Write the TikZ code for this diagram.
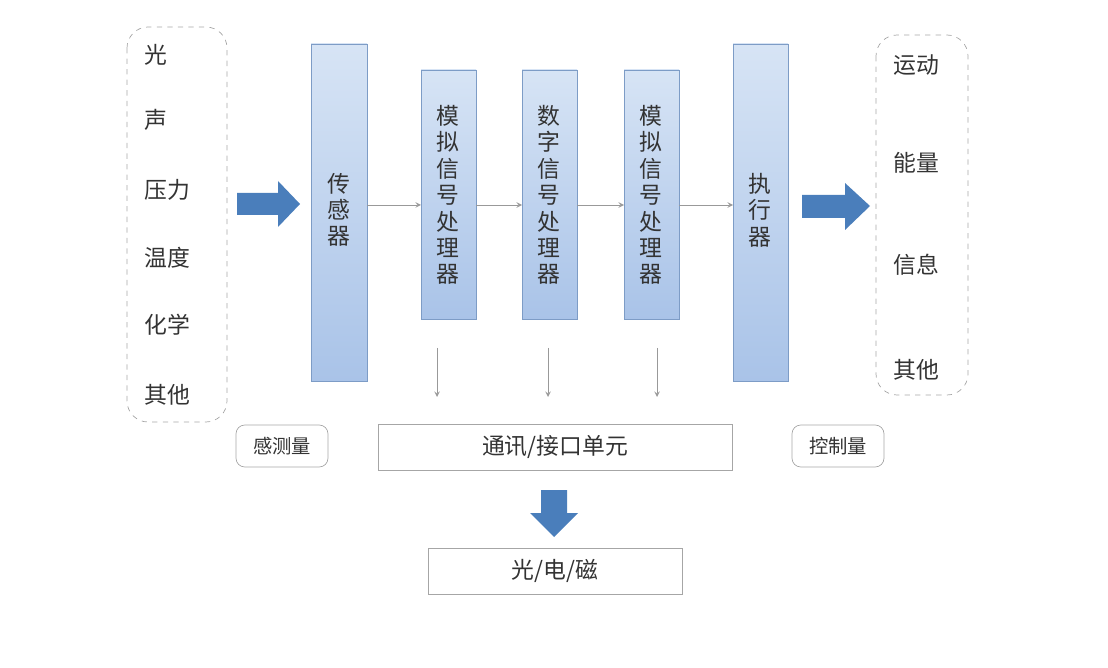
\documentclass[tikz,border=0pt]{standalone}
\usepackage{fontspec}
\setmainfont{Noto Sans CJK SC}
\definecolor{bfill}{HTML}{BCD2EE}
\definecolor{bfill2}{HTML}{A9C3E8}
\definecolor{bdraw}{HTML}{7D9CC6}
\definecolor{barrow}{HTML}{4A7EBB}
\definecolor{txt}{HTML}{333333}
\begin{document}
\begin{tikzpicture}[x=0.02cm,y=-0.02cm,
  proc/.style={draw=bdraw,top color=bfill!60,bottom color=bfill2},
  ptxt/.style={text=txt,font=\fontsize{13}{15}\selectfont,align=center},
  side/.style={draw=gray!70,dashed,rounded corners=12},
  lab/.style={text=txt,font=\fontsize{13}{14}\selectfont,anchor=west},
  rbox/.style={draw=gray!70,rounded corners=5,text=txt,font=\fontsize{11}{13}\selectfont},
  sbox/.style={draw=gray!70,text=txt,font=\fontsize{13}{15}\selectfont},
  tarrow/.style={->,draw=gray!80,>=stealth,line width=0.4pt}]
\useasboundingbox (0,0) rectangle (1108,668);
% left dashed
\draw[side] (127,27) rectangle (227,422);
\foreach \t/\y in {光/55,声/120,压力/190,温度/258,化学/325,其他/395}
  \node[lab] at (138,\y) {\t};
\draw[side] (876,35) rectangle (968,395);
\foreach \t/\y in {运动/65,能量/163,信息/265,其他/370}
  \node[lab] at (887,\y) {\t};
% processing boxes
\draw[proc] (311,44) rectangle (367,381);
\node[ptxt] (s) at (339,210) {传\\感\\器};
\draw[proc] (421,70) rectangle (476,319);
\node[ptxt] (a1) at (448,195) {模\\拟\\信\\号\\处\\理\\器};
\draw[proc] (522,70) rectangle (577,319);
\node[ptxt] (d) at (549,195) {数\\字\\信\\号\\处\\理\\器};
\draw[proc] (624,70) rectangle (679,319);
\node[ptxt] (a2) at (651,195) {模\\拟\\信\\号\\处\\理\\器};
\draw[proc] (733,44) rectangle (788,381);
\node[ptxt] (e) at (760,210) {执\\行\\器};
% thin arrows
\coordinate (p1) at (367,205); \coordinate (q1) at (421,205);
\coordinate (p2) at (476,205); \coordinate (q2) at (522,205);
\coordinate (p3) at (577,205); \coordinate (q3) at (624,205);
\coordinate (p4) at (679,205); \coordinate (q4) at (733,205);
\draw[tarrow] (p1)--(q1); \draw[tarrow] (p2)--(q2); \draw[tarrow] (p3)--(q3); \draw[tarrow] (p4)--(q4);
\foreach \x in {437,548,657}{
  \coordinate (u\x) at (\x,348); \coordinate (v\x) at (\x,397);
  \draw[tarrow] (u\x)--(v\x);}
% block arrows
\fill[barrow] (237,193)--(278,193)--(278,181)--(300,204)--(278,227)--(278,215)--(237,215)--cycle;
\fill[barrow] (802,195)--(845,195)--(845,183)--(870,206)--(845,230)--(845,218)--(802,218)--cycle;
\fill[barrow] (541,490)--(567,490)--(567,513)--(578,513)--(554,537)--(530,513)--(541,513)--cycle;
% bottom boxes
\node[rbox,minimum width=1.84cm,minimum height=0.84cm] (gc) at (282,446) {感测量};
\node[rbox,minimum width=1.84cm,minimum height=0.84cm] (kz) at (838,446) {控制量};
\node[sbox,minimum width=7.08cm,minimum height=0.92cm] (tx) at (555,447) {通讯/接口单元};
\node[sbox,minimum width=5.08cm,minimum height=0.92cm] (gd) at (555,571) {光/电/磁};
\end{tikzpicture}
\end{document}
